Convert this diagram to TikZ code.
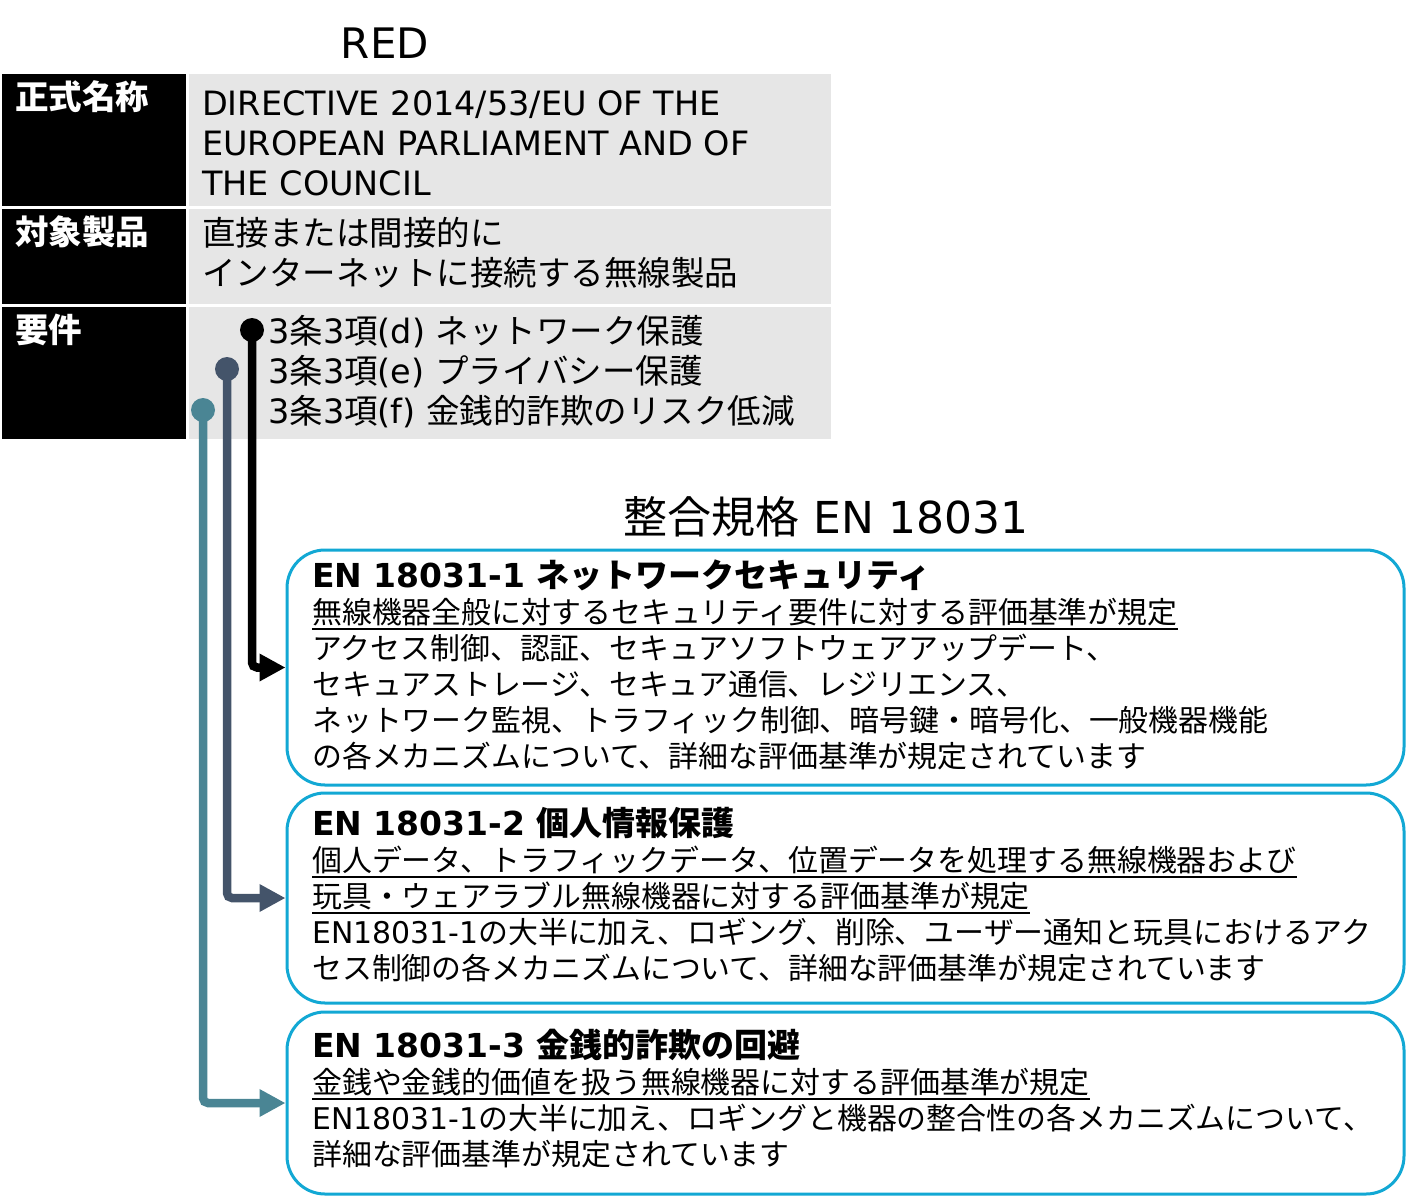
\documentclass[tikz,border=0pt]{standalone}
\usepackage{fontspec}
\setmainfont{Noto Sans CJK JP}
\newfontfamily\latf{DejaVu Sans}
\newcommand\lx[1]{{\latf #1}}
\usetikzlibrary{arrows.meta}
\definecolor{cellgray}{HTML}{E6E6E6}
\definecolor{boxcyan}{HTML}{12A8D4}
\definecolor{slate}{HTML}{44546A}
\definecolor{tealc}{HTML}{4A8594}
\tikzset{
  txt/.style={anchor=base west, inner sep=0pt},
  lbl/.style={txt, text=white, font=\fontsize{33.5}{40}\selectfont\bfseries},
  tcell/.style={txt, font=\fontsize{33.5}{40}\selectfont},
  cellblk/.style={fill=black, inner sep=0pt, anchor=north west},
  cellgry/.style={fill=cellgray, inner sep=0pt, anchor=north west},
  ttl/.style={txt, font=\fontsize{33}{36}\selectfont\bfseries},
  body/.style={txt, font=\fontsize{29.9}{36}\selectfont},
  ebox/.style={draw=boxcyan, line width=3pt, rounded corners=38pt, inner sep=0pt, minimum width=1117pt},
  dot/.style={circle, inner sep=0pt, minimum size=24pt},
  conn/.style={line width=8.5pt, rounded corners=5pt, -{Triangle[length=26pt,width=26pt]}},
  uline/.style={line width=1.8pt},
}
\begin{document}
\begin{tikzpicture}[x=1pt, y=-1pt]
\useasboundingbox (0,0) rectangle (1408,1197);
% title
\node[anchor=base, inner sep=0pt, font=\fontsize{42}{50}\selectfont] (red) at (385,58) {\lx{RED}};
% table cells
\node[cellblk, minimum width=184pt, minimum height=132pt] (k1) at (2,74) {};
\node[cellblk, minimum width=184pt, minimum height=95pt] (k2) at (2,209) {};
\node[cellblk, minimum width=184pt, minimum height=132pt] (k3) at (2,307) {};
\node[cellgry, minimum width=642pt, minimum height=132pt] (v1) at (189,74) {};
\node[cellgry, minimum width=642pt, minimum height=95pt] (v2) at (189,209) {};
\node[cellgry, minimum width=642pt, minimum height=132pt] (v3) at (189,307) {};
% labels
\node[lbl] (l1) at (15,109) {正式名称};
\node[lbl] (l2) at (15,244) {対象製品};
\node[lbl] (l3) at (15,342) {要件};
% values
\node[tcell] (a1) at (202,115) {\lx{DIRECTIVE 2014/53/EU OF THE}};
\node[tcell] (a2) at (202,155) {\lx{EUROPEAN PARLIAMENT AND OF}};
\node[tcell] (a3) at (202,195) {\lx{THE COUNCIL}};
\node[tcell] (b1) at (202,245) {直接または間接的に};
\node[tcell] (b2) at (202,285) {インターネットに接続する無線製品};
\node[tcell] (r1) at (268,343) {\lx{3}条\lx{3}項\lx{(d) }ネットワーク保護};
\node[tcell] (r2) at (268,383) {\lx{3}条\lx{3}項\lx{(e) }プライバシー保護};
\node[tcell] (r3) at (268,423) {\lx{3}条\lx{3}項\lx{(f) }金銭的詐欺のリスク低減};
% subtitle
\node[anchor=base, inner sep=0pt, font=\fontsize{44}{52}\selectfont] (sub) at (826,533) {整合規格\lx{ EN 18031}};
% boxes
\node[ebox, minimum height=235pt] (box1) at (845.5,667.5) {};
\node[ebox, minimum height=210pt] (box2) at (845.5,898) {};
\node[ebox, minimum height=182pt] (box3) at (845.5,1103) {};
% box 1 text
\node[ttl] (t1) at (312,587) {\lx{EN 18031-1 }ネットワークセキュリティ};
\node[body] (u1) at (312,623) {無線機器全般に対するセキュリティ要件に対する評価基準が規定};
\node[body] (p11) at (312,659) {アクセス制御、認証、セキュアソフトウェアアップデート、};
\node[body] (p12) at (312,695) {セキュアストレージ、セキュア通信、レジリエンス、};
\node[body] (p13) at (312,731) {ネットワーク監視、トラフィック制御、暗号鍵・暗号化、一般機器機能};
\node[body] (p14) at (312,767) {の各メカニズムについて、詳細な評価基準が規定されています};
% box 2 text
\node[ttl] (t2) at (312,835) {\lx{EN 18031-2 }個人情報保護};
\node[body] (u2a) at (312,871) {個人データ、トラフィックデータ、位置データを処理する無線機器および};
\node[body] (u2b) at (312,907) {玩具・ウェアラブル無線機器に対する評価基準が規定};
\node[body] (p21) at (312,943) {\lx{EN18031-1}の大半に加え、ロギング、削除、ユーザー通知と玩具におけるアク};
\node[body] (p22) at (312,979) {セス制御の各メカニズムについて、詳細な評価基準が規定されています};
% box 3 text
\node[ttl] (t3) at (312,1057) {\lx{EN 18031-3 }金銭的詐欺の回避};
\node[body] (u3) at (312,1093) {金銭や金銭的価値を扱う無線機器に対する評価基準が規定};
\node[body] (p31) at (312,1129) {\lx{EN18031-1}の大半に加え、ロギングと機器の整合性の各メカニズムについて、};
\node[body] (p32) at (312,1165) {詳細な評価基準が規定されています};
% underlines
\foreach \u in {u1,u2a,u2b,u3}
  \draw[uline] ([yshift=-6pt]\u.base west) -- ([yshift=-6pt]\u.base east);
% dots and connectors
\node[dot, fill=black] (d1) at (252,330) {};
\node[dot, fill=slate] (d2) at (227,369) {};
\node[dot, fill=tealc] (d3) at (203,410) {};
\draw[conn, draw=tealc] (d3.center) |- (box3.west);
\draw[conn, draw=slate] (d2.center) |- (box2.west);
\draw[conn, draw=black] (d1.center) |- (box1.west);
\end{tikzpicture}
\end{document}
